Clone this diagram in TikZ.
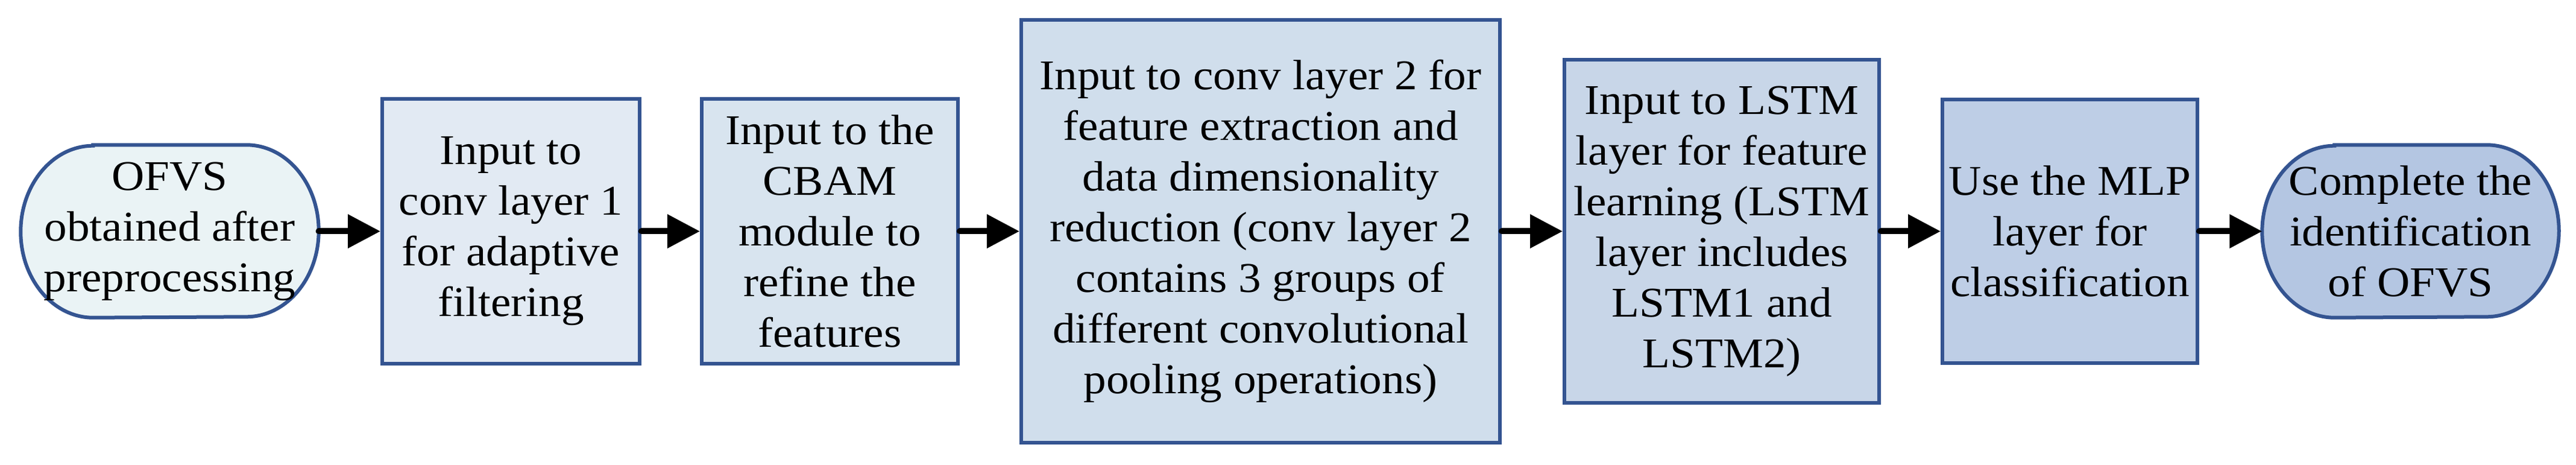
\documentclass[tikz,border=0pt]{standalone}
\usepackage{fontspec}
\setmainfont{Liberation Serif}[FakeStretch=1.07]
\usetikzlibrary{arrows.meta,backgrounds}
\definecolor{bd}{RGB}{52,84,145}
\definecolor{f0}{RGB}{234,243,245}
\definecolor{f1}{RGB}{226,234,243}
\definecolor{f2}{RGB}{216,228,239}
\definecolor{f3}{RGB}{208,222,236}
\definecolor{f4}{RGB}{200,214,232}
\definecolor{f5}{RGB}{190,206,230}
\definecolor{f6}{RGB}{180,198,226}
\newcommand{\myterm}[2]{%
  \draw[draw=bd,line width=0.06cm,fill=#2]
    ([xshift=1.2cm]#1.north west) -- ([xshift=-1.2cm]#1.north east)
    arc[start angle=90,end angle=-90,x radius=1.2cm,y radius=1.425cm]
    -- ([xshift=1.2cm]#1.south west)
    arc[start angle=270,end angle=90,x radius=1.2cm,y radius=1.425cm] -- cycle;}
\begin{document}
\begin{tikzpicture}[
  every node/.style={font=\fontsize{20}{23.9}\selectfont, align=center, inner sep=0pt},
  stepbox/.style 2 args={draw=bd, line width=0.06cm, minimum width=#1, minimum height=#2},
  termnode/.style={minimum width=4.93cm, minimum height=2.85cm},
  arr/.style={line width=0.1cm, line cap=round, -{Triangle[length=0.54cm,width=0.54cm]}}
]
\useasboundingbox (0,0) rectangle (42.73,7.71);

\node[termnode] (t1) at (2.815,3.875) {OFVS\\obtained after\\preprocessing};
\node[stepbox={4.27cm}{4.39cm}, fill=f1] (b1) at (8.475,3.875) {Input to\\conv layer 1\\for adaptive\\filtering};
\node[stepbox={4.25cm}{4.39cm}, fill=f2] (b2) at (13.765,3.875) {Input to the\\CBAM\\module to\\refine the\\features};
\node[stepbox={7.94cm}{7.01cm}, fill=f3] (b3) at (20.91,3.875) {Input to conv layer 2 for\\feature extraction and\\data dimensionality\\reduction (conv layer 2\\contains 3 groups of\\different convolutional\\pooling operations)};
\node[stepbox={5.22cm}{5.69cm}, fill=f4] (b4) at (28.56,3.875) {Input to LSTM\\layer for feature\\learning (LSTM\\layer includes\\LSTM1 and\\LSTM2)};
\node[stepbox={4.23cm}{4.37cm}, fill=f5] (b5) at (34.335,3.875) {Use the MLP\\layer for\\classification};
\node[termnode, minimum width=4.91cm] (t2) at (39.985,3.875) {Complete the\\identification\\of OFVS};

\begin{scope}[on background layer]
  \myterm{t1}{f0}
  \myterm{t2}{f6}
\end{scope}

\draw[arr] (t1.east) -- (b1.west);
\draw[arr] (b1.east) -- (b2.west);
\draw[arr] (b2.east) -- (b3.west);
\draw[arr] (b3.east) -- (b4.west);
\draw[arr] (b4.east) -- (b5.west);
\draw[arr] (b5.east) -- (t2.west);
\end{tikzpicture}
\end{document}
